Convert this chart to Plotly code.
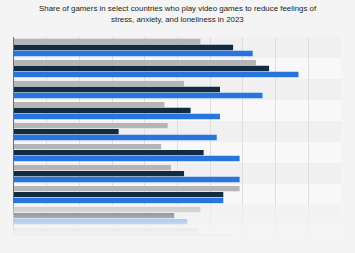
import plotly.graph_objects as go

countries = ["United States", "United Kingdom", "France", "Germany", "Italy",
             "Spain", "Japan", "South Korea", "China", "Brazil"]
series_names = ["Loneliness", "Anxiety", "Stress"]
loneliness = [57, 74, 52, 46, 47, 45, 48, 69, 57, 56]
anxiety = [67, 78, 63, 54, 32, 58, 52, 64, 49, 66]
stress = [73, 87, 76, 63, 62, 69, 69, 64, 53, 60]
series_values = [loneliness, anxiety, stress]
colors = ["#b5b5b5", "#132a43", "#2876dd"]

W, H = 355, 253
plot_left, plot_right = 14, 341
plot_top, plot_bottom = 37, 236
ph = plot_bottom - plot_top


def py(p):
    return (plot_bottom - p) / ph


fig = go.Figure()
for name, vals, col in zip(series_names, series_values, colors):
    fig.add_trace(go.Bar(y=countries, x=vals, name=name, orientation="h",
                         marker=dict(color=col, line=dict(width=0))))

shapes = []
# alternating group bands
for i in range(len(countries)):
    shapes.append(dict(type="rect", xref="paper", yref="y", x0=0, x1=1,
                       y0=i - 0.5, y1=i + 0.5, layer="below", line=dict(width=0),
                       fillcolor="#f0f0f0" if i % 2 == 0 else "#f8f8f8"))
# fade overlay at bottom
fade_start, fade_end = 203, 236
n = 33
for k in range(n):
    p0 = fade_start + (fade_end - fade_start) * k / n
    p1 = fade_start + (fade_end - fade_start) * (k + 1) / n
    op = min(1.0, 0.35 + 0.65 * (k + 0.5) / n)
    shapes.append(dict(type="rect", xref="paper", yref="paper", x0=-0.01, x1=1.01,
                       y0=py(p1), y1=py(p0),
                       layer="above", line=dict(width=0), fillcolor="#f4f4f4",
                       opacity=op))

title_font = dict(family="Liberation Sans, Arial", size=7.9, color="#222222")
fig.update_layout(
    width=W, height=H,
    margin=dict(l=plot_left, r=W - plot_right, t=plot_top, b=H - plot_bottom),
    paper_bgcolor="#f4f4f4", plot_bgcolor="#f4f4f4",
    barmode="group", bargap=0.15, bargroupgap=0.1,
    showlegend=False,
    shapes=shapes,
    xaxis=dict(range=[0, 100], dtick=10, showticklabels=False, ticks="",
               showgrid=True, gridcolor="#dedede", gridwidth=1, zeroline=False,
               showline=False, fixedrange=True),
    yaxis=dict(range=[8.97, -0.5], showticklabels=False, ticks="", showgrid=False,
               zeroline=False, showline=True, linecolor="#6e6e6e", linewidth=1,
               fixedrange=True),
    annotations=[
        dict(text="Share of gamers in select countries who play video games to reduce feelings of",
             x=0.5, xref="paper", y=py(8.5), yref="paper", showarrow=False,
             font=title_font, xanchor="center", yanchor="middle"),
        dict(text="stress, anxiety, and loneliness in 2023",
             x=0.5, xref="paper", y=py(20), yref="paper", showarrow=False,
             font=title_font, xanchor="center", yanchor="middle"),
    ],
)
fig.write_html("out.html", config={"displayModeBar": False})
